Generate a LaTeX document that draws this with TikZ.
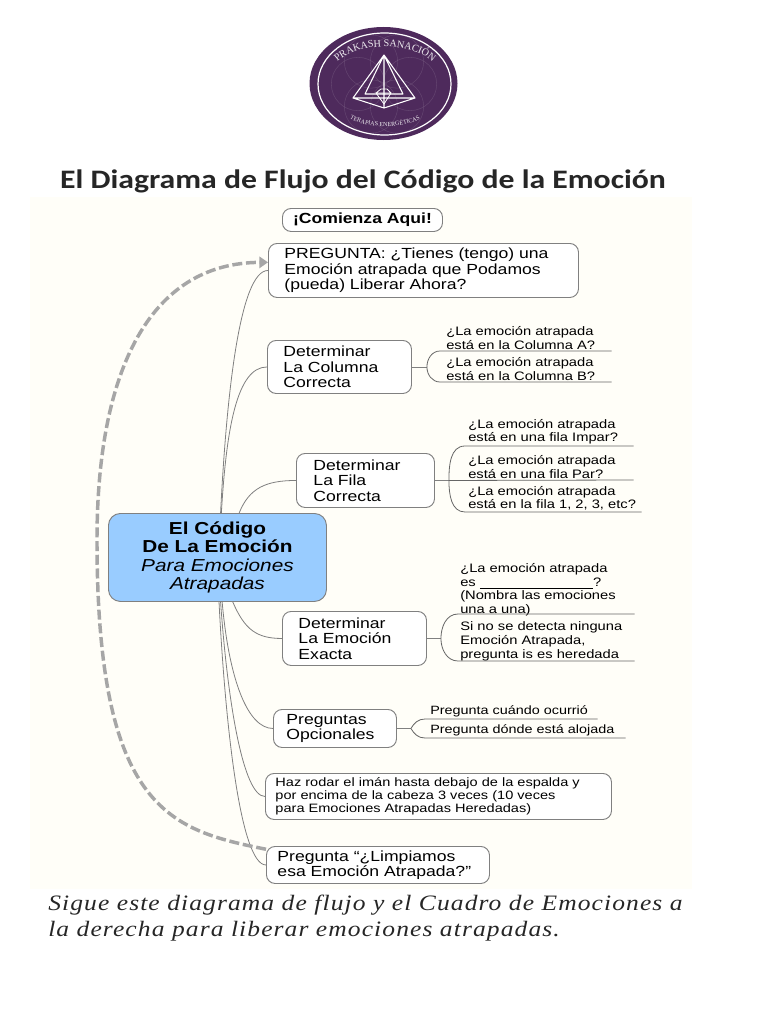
\documentclass[tikz,border=0pt]{standalone}
\usepackage{fontspec}
\setmainfont[FakeStretch=1.2]{Liberation Sans}
\newfontfamily\titlefont[FakeStretch=1.19]{Carlito}
\newfontfamily\notefont[FakeStretch=1.16,LetterSpace=5]{Liberation Serif}
\newfontfamily\logofont{Liberation Serif}
\usepackage{xcolor}
\usetikzlibrary{positioning,arrows.meta,decorations.text}
\definecolor{logopurple}{HTML}{4E2A5C}
\definecolor{paper}{HTML}{FFFEF8}
\definecolor{cenblue}{HTML}{99CCFF}
\definecolor{edgegray}{HTML}{808080}
\definecolor{dashgray}{HTML}{A6A6A6}

\begin{document}
\begin{tikzpicture}[x=0.75pt,y=-0.75pt,>=Latex,font=\fontsize{11pt}{11.6pt}\selectfont,
  box/.style={rounded corners=6.5pt,draw=edgegray,fill=white,line width=0.7pt,align=left,inner ysep=0pt,anchor=north west},
  leaf/.style={anchor=south west,align=left,inner ysep=1pt,inner xsep=0pt,font=\fontsize{9.2pt}{10.2pt}\selectfont},
  link/.style={draw=edgegray,line width=0.6pt},
  rule/.style={draw=black!60,line width=0.6pt},
  back/.style={-{Triangle[length=6.5pt,width=8.5pt]},draw=dashgray,line width=2.6pt,dash pattern=on 7.5pt off 2.8pt}]
\useasboundingbox (0,0) rectangle (768,1024);
\fill[paper] (30,197) rectangle (692,889);

% logo
\fill[logopurple] (383.5,83.5) ellipse [x radius=74,y radius=56.5];
\draw[white,line width=0.9pt] (384.5,84) ellipse [x radius=66.5,y radius=51];
\foreach \a in {0,60,...,300}
  \draw[white,opacity=0.12,line width=0.4pt] (384,84)+(\a:26) circle [radius=20pt];
\draw[white,line width=0.8pt,line join=round] (384,55) -- (353,98) -- (384,108) -- (415,98) -- cycle
  (384,55) -- (384,108) (384,55) -- (365,94) -- (403,94) -- cycle
  (353,98) -- (415,98);
\draw[white,line width=0.6pt] (376,93) -- (391,93) -- (384,104) -- cycle (376,93) -- (381,89) -- (387,89) -- (391,93);
\path[decorate,decoration={text along path,text align=center,text color=white!90!logopurple,
  text={|\logofont\fontsize{7.6pt}{8pt}\selectfont|PRAKASH SANACIÓN}}]
  (330,72) .. controls (345,38) and (425,38) .. (440,72);
\path[decorate,decoration={text along path,text align=center,text color=white!90!logopurple,
  text={|\logofont\fontsize{4.6pt}{5pt}\selectfont|TERAPIAS ENERGÉTICAS}}]
  (345,115) .. controls (360,130) and (410,130) .. (425,115);

% title and note
\node[font=\titlefont\bfseries\fontsize{20pt}{21pt}\selectfont,text=black!85] (title) at (363,181) {El Diagrama de Flujo del Código de la Emoción};
\node[anchor=west,align=left,inner sep=0pt,font=\notefont\itshape\fontsize{16.5pt}{19.5pt}\selectfont,text=black!85] (note) at (48,918) {Sigue este diagrama de flujo y el Cuadro de Emociones a\\la derecha para liberar emociones atrapadas.};

% main boxes
\node[box,text width=160*0.75pt,inner xsep=0pt,minimum height=23*0.75pt,align=center,font=\fontsize{11pt}{12pt}\bfseries\selectfont] (start) at (282,208) {¡Comienza Aqui!};
\node[box,text width=278*0.75pt,minimum height=54*0.75pt,inner xsep=12pt] (ques) at (268,243) {PREGUNTA: ¿Tienes (tengo) una\\Emoción atrapada que Podamos\\(pueda) Liberar Ahora?};
\node[box,text width=112*0.75pt,minimum height=53*0.75pt,inner xsep=12pt] (colm) at (267,340) {Determinar\\La Columna\\Correcta};
\node[box,text width=104*0.75pt,minimum height=54*0.75pt,inner xsep=12.75pt] (filr) at (296,453) {Determinar\\La Fila\\Correcta};
\node[box,text width=112*0.75pt,minimum height=54*0.75pt,inner xsep=12pt] (emoc) at (282,611) {Determinar\\La Emoción\\Exacta};
\node[box,text width=97*0.75pt,minimum height=38*0.75pt,inner xsep=9.75pt] (opci) at (273,709) {Preguntas\\Opcionales};
\node[box,text width=326*0.75pt,minimum height=46*0.75pt,inner xsep=7.5pt,font=\fontsize{9.1pt}{9.8pt}\selectfont] (iman) at (265,773) {Haz rodar el imán hasta debajo de la espalda y\\por encima de la cabeza 3 veces (10 veces\\para Emociones Atrapadas Heredadas)};
\node[box,text width=201*0.75pt,minimum height=37*0.75pt,inner xsep=8.25pt] (limp) at (266,846) {Pregunta “¿Limpiamos\\esa Emoción Atrapada?”};
\node[box,fill=cenblue,rounded corners=9pt,text width=218*0.75pt,inner xsep=0pt,minimum height=88*0.75pt,align=center,font=\fontsize{13pt}{13.7pt}\selectfont] (cent) at (108,513) {\textbf{El Código}\\\textbf{De La Emoción}\\\textit{Para Emociones}\\\textit{Atrapadas}};

% links from the centre
\draw[link] (cent.86) .. controls +(6,-120) and +(-28,0) .. (ques.west);
\draw[link] (cent.85) .. controls +(5,-85) and +(-30,0) .. (colm.west);
\draw[link] (cent.64) .. controls +(10,-25) and +(-30,0) .. (filr.west);
\draw[link] (cent.-71) .. controls +(12,28) and +(-25,0) .. (emoc.west);
\draw[link] (cent.-84) .. controls +(7,79) and +(-25,0) .. (opci.west);
\draw[link] (cent.-86) .. controls +(7,99) and +(-22,0) .. (iman.west);
\draw[link] (cent.-88) .. controls +(6,119) and +(-26,0) .. (limp.west);

% back arrow
\coordinate (bend) at (97,540);
\draw[back] (limp.172) .. controls (170,830) and (97,810) .. (bend) .. controls (97,370) and (150,263) .. (ques.177.4);

% leaves
\node[leaf,text width=171*0.75pt] (cola) at (440,351) {\hspace*{4.5pt}¿La emoción atrapada\\\hspace*{4.5pt}está en la Columna A?};
\node[leaf,text width=171*0.75pt] (colb) at (440,382) {\hspace*{4.5pt}¿La emoción atrapada\\\hspace*{4.5pt}está en la Columna B?};
\node[leaf,text width=168*0.75pt] (fila) at (465,446) {\hspace*{2.25pt}¿La emoción atrapada\\\hspace*{2.25pt}está en una fila Impar?};
\node[leaf,text width=185*0.75pt] (filb) at (448,480) {\hspace*{15pt}¿La emoción atrapada\\\hspace*{15pt}está en una fila Par?};
\node[leaf,text width=176*0.75pt] (filc) at (465,512) {\hspace*{2.25pt}¿La emoción atrapada\\\hspace*{2.25pt}está en la fila 1, 2, 3, etc?};
\node[leaf,inner ysep=-1.5pt,text width=176*0.75pt] (emoa) at (458,614) {\hspace*{1.5pt}¿La emoción atrapada\\\hspace*{1.5pt}es \underline{\hspace{85pt}}?\\\hspace*{1.5pt}(Nombra las emociones\\\hspace*{1.5pt}una a una)};
\node[leaf,inner ysep=0pt,text width=176*0.75pt] (emob) at (458,661) {\hspace*{1.5pt}Si no se detecta ninguna\\\hspace*{1.5pt}Emoción Atrapada,\\\hspace*{1.5pt}pregunta is es heredada};
\node[leaf,text width=172*0.75pt,font=\fontsize{9pt}{10.2pt}\selectfont] (opca) at (425,719) {\hspace*{3.75pt}Pregunta cuándo ocurrió};
\node[leaf,text width=200*0.75pt,font=\fontsize{9pt}{10.2pt}\selectfont] (opcb) at (425,738) {\hspace*{3.75pt}Pregunta dónde está alojada};

% forks
\draw[link] (colm.east) -- ++(15,0) coordinate (colf);
\draw[rule] (colf) to[out=90,in=180] (cola.south west) -- (cola.south east);
\draw[rule] (colf) to[out=-90,in=180] (colb.south west) -- (colb.south east);
\draw[link] (filr.east) -- ++(14,0) coordinate (filf);
\draw[rule] (filf) to[out=90,in=180] (fila.south west) -- (fila.south east);
\draw[rule] (filf) -- (filb.south east);
\draw[rule] (filf) to[out=-90,in=180] (filc.south west) -- (filc.south east);
\draw[link] (emoc.east) -- ++(14,0) coordinate (emof);
\draw[rule] (emof) to[out=90,in=180] (emoa.south west) -- (emoa.south east);
\draw[rule] (emof) to[out=-90,in=180] (emob.south west) -- (emob.south east);
\draw[link] (opci.east) -- ++(14,0) coordinate (opcf);
\draw[rule] (opcf) to[out=60,in=180] (opca.south west) -- (opca.south east);
\draw[rule] (opcf) to[out=-60,in=180] (opcb.south west) -- (opcb.south east);
\end{tikzpicture}
\end{document}
